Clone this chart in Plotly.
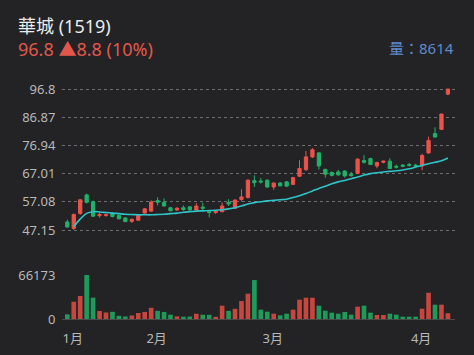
import plotly.graph_objects as go

# ---- data ----
opens  = [50.0,47.7,53.0,59.5,57.1,52.2,52.3,53.0,52.3,51.4,50.2,50.6,53.1,53.8,57.5,56.9,55.0,54.2,55.0,55.3,
          54.2,55.2,53.6,53.3,53.6,56.9,54.8,57.9,58.6,64.5,64.4,64.7,62.3,63.7,64.1,63.2,66.1,68.4,72.9,74.3,
          68.5,67.4,67.6,67.9,66.8,67.1,71.6,72.3,69.7,71.0,71.4,69.6,70.0,70.2,70.0,69.7,74.3,81.1,82.6,95.0]
highs  = [50.8,53.0,58.0,60.0,57.5,53.3,53.0,53.3,52.5,51.6,51.2,52.6,54.9,57.6,58.7,58.3,55.3,55.2,55.8,55.5,
          56.6,56.8,53.8,54.0,56.9,58.0,57.9,61.5,65.0,66.4,65.5,65.0,63.9,64.0,64.4,65.9,71.7,75.0,76.0,74.6,
          68.7,67.8,68.3,68.2,67.6,72.4,73.5,72.6,71.2,71.6,72.4,70.2,70.4,70.8,70.5,74.0,80.0,83.3,88.0,96.8]
lows   = [48.0,47.2,52.5,56.5,51.8,51.5,51.8,51.6,50.9,49.9,49.6,50.4,52.9,53.5,55.8,55.5,53.8,53.9,53.9,54.0,
          54.0,53.6,51.6,52.8,53.4,55.6,54.6,57.2,58.3,62.3,63.5,62.0,61.3,62.5,62.4,63.0,65.8,68.0,72.5,68.4,
          65.6,66.0,66.2,65.6,66.0,66.8,70.5,70.0,68.9,70.6,68.6,68.8,69.3,69.5,69.2,68.2,74.0,79.6,82.4,94.6]
closes = [48.2,52.6,57.8,56.9,52.0,52.6,52.5,51.9,51.1,50.1,50.9,52.4,54.6,57.0,56.9,55.6,53.9,54.8,54.4,54.2,
          55.6,54.8,53.3,53.8,55.6,56.3,57.7,58.8,64.7,63.8,64.1,62.3,63.7,62.7,62.6,65.6,68.8,72.9,75.4,69.7,
          66.8,66.4,66.6,66.2,66.3,72.1,71.0,70.2,70.9,71.4,68.8,69.3,69.6,69.9,69.6,73.4,78.7,79.9,88.0,96.8]
volumes = [7000,26000,34600,66173,32000,12000,9800,10800,4800,3800,5200,9000,10600,16800,12300,10600,6500,4000,3500,3700,
           7800,6500,6300,3300,20000,12200,15300,27000,38000,58600,14000,11000,8000,5500,8000,14000,29000,32000,32000,20000,
           12500,9500,8000,10500,6500,18500,20000,9500,6000,6000,8000,6500,3500,3500,3500,15500,39500,21500,21500,8614]
ma_line = [None,48.3,51.0,53.0,53.6,53.5,53.3,53.1,52.9,52.7,52.6,52.5,52.5,52.5,52.6,52.7,52.9,53.1,53.4,53.6,
           53.8,53.9,54.0,54.1,54.3,54.6,55.0,55.6,56.3,56.8,57.1,57.4,57.6,57.8,58.0,58.6,59.2,60.0,60.9,61.8,
           62.6,63.4,64.1,64.6,65.2,65.8,66.5,67.0,67.3,67.6,67.8,68.0,68.3,68.7,69.3,69.9,70.5,71.0,71.5,72.5]
price_ticks = [47.15, 57.08, 67.01, 76.94, 86.87, 96.8]
price_tick_text = ["47.15", "57.08", "67.01", "76.94", "86.87", "96.8"]
month_labels = ["1月", "2月", "3月", "4月"]
month_start_idx = [0, 13, 31, 54]
vol_ticks = [0, 66173]

title_text = "華城 (1519)"
change_text = "96.8 ▲8.8 (10%)"
vol_text = "量：8614"

# ---- styling ----
BG = "#232325"
RED = "#ec534a"
GREEN = "#1fb26a"
VRED = "#c9463f"
VGREEN = "#1e9a5a"
GRID = "#6e6e6e"
TXT = "#b8b8b8"
FONT = "Noto Sans, Noto Sans CJK TC, sans-serif"

W, H = 474, 355
x = list(range(len(closes)))
vol_colors = [VRED if c >= o else VGREEN for o, c in zip(opens, closes)]

fig = go.Figure()
fig.add_trace(go.Candlestick(
    x=x, open=opens, high=highs, low=lows, close=closes,
    increasing=dict(line=dict(color=RED, width=1), fillcolor=RED),
    decreasing=dict(line=dict(color=GREEN, width=1), fillcolor=GREEN),
    whiskerwidth=0, xaxis="x", yaxis="y", showlegend=False))
fig.add_trace(go.Scatter(
    x=x, y=ma_line, mode="lines", line=dict(color="#2fc4c8", width=1.6, shape="spline"),
    xaxis="x", yaxis="y", showlegend=False, connectgaps=False))
fig.add_trace(go.Bar(
    x=x, y=volumes, marker=dict(color=vol_colors, line=dict(width=0)),
    xaxis="x2", yaxis="y2", showlegend=False))

def py(px):
    return 1 - px / H

xr = [-0.82, 60.1]
fig.update_layout(
    width=W, height=H,
    margin=dict(l=0, r=0, t=0, b=0),
    paper_bgcolor=BG, plot_bgcolor=BG,
    font=dict(family=FONT, color=TXT, size=13),
    bargap=0.28, boxgap=0.28,
    xaxis=dict(domain=[62 / W, 455 / W], range=xr, showgrid=False, zeroline=False, automargin=False,
               showticklabels=False, rangeslider=dict(visible=False), fixedrange=True),
    yaxis=dict(domain=[py(240), py(80)], range=[43.63, 99.97], tickvals=price_ticks, automargin=False,
               ticktext=price_tick_text, showgrid=True, gridcolor=GRID, griddash="dot",
               gridwidth=1, zeroline=False, ticks="outside", ticklen=3, tickcolor=BG,
               tickfont=dict(size=13, color=TXT)),
    xaxis2=dict(domain=[62 / W, 455 / W], range=xr, anchor="y2", showgrid=False, zeroline=False,
                automargin=False,
                tickvals=[i + 0.85 for i in month_start_idx], ticktext=month_labels,
                ticks="outside", ticklen=7, tickcolor=BG, showline=True, linecolor="#4a4a4a",
                linewidth=1, tickfont=dict(size=13, color=TXT)),
    yaxis2=dict(domain=[py(319), py(270)], range=[0, 73693], tickvals=vol_ticks, automargin=False,
                ticktext=[str(v) for v in vol_ticks], showgrid=False, zeroline=False,
                ticks="outside", ticklen=3, tickcolor=BG, tickfont=dict(size=13, color=TXT)),
    annotations=[
        dict(text=title_text, xref="paper", yref="paper", x=16 / W, y=py(26), xanchor="left",
             yanchor="middle", showarrow=False, font=dict(size=18, color="#ececec", family=FONT)),
        dict(text=change_text, xref="paper", yref="paper", x=16 / W, y=py(49), xanchor="left",
             yanchor="middle", showarrow=False, font=dict(size=18, color="#e2574c", family=FONT)),
        dict(text=vol_text, xref="paper", yref="paper", x=456 / W, y=py(48), xanchor="right",
             yanchor="middle", showarrow=False, font=dict(size=15, color="#5f89cc", family=FONT)),
    ],
)

fig.write_html("out.html")
